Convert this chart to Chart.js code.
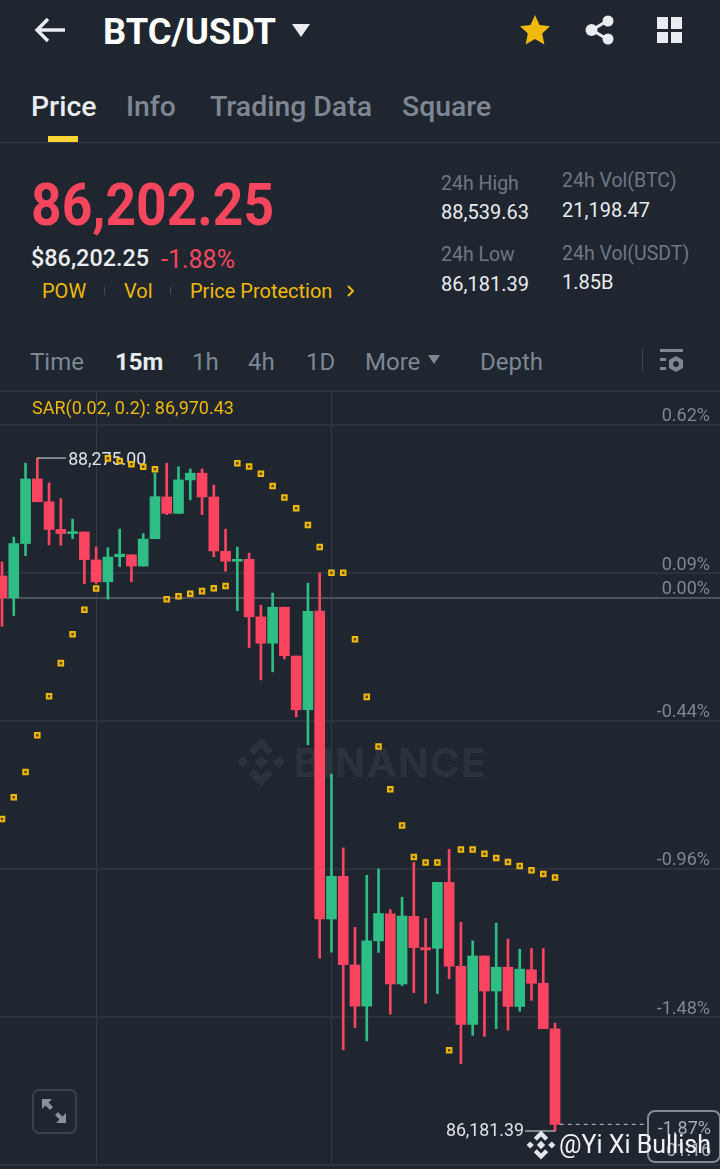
<!DOCTYPE html>
<html>
<head>
<meta charset="utf-8">
<title>BTC/USDT</title>
<script src="https://cdn.jsdelivr.net/npm/chart.js@4"></script>
<style>
  html, body { margin: 0; padding: 0; background: #1f2630; }
  #page { position: relative; width: 720px; height: 1169px; overflow: hidden; background: #1f2630; font-family: Roboto, sans-serif; color: #eaecef; }
  #page div { position: absolute; white-space: nowrap; line-height: 1; }
  #page svg { position: absolute; }
  .tab { font-size: 28.4px; font-weight: 500; color: #7e8794; top: 93px; }
  .range { font-size: 24px; color: #7e8794; top: 350px; }
  .lbl { font-size: 19.5px; color: #6f7783; }
  .val { font-size: 20px; font-weight: 400; color: #eaecef; }
  .gold { font-size: 20px; color: #f0b90b; top: 281px; }
  #chartBox { left: 0; top: 392px; }
  canvas { display: block; }
</style>
</head>
<body>
<div id="page">
  <svg style="left:34px;top:16px" width="32" height="28" viewBox="0 0 32 28"><path d="M14 3 L3 14 L14 25 M3 14 H31" fill="none" stroke="#eaecef" stroke-width="3.4"/></svg>
  <div style="left:103px;top:14px;font-size:36.3px;font-weight:700;color:#fff">BTC/USDT</div>
  <svg style="left:291px;top:22px" width="20" height="16"><path d="M1 2 H19 L10 15 Z" fill="#eaecef"/></svg>
  <svg style="left:518px;top:13px" width="34" height="34" viewBox="0 0 34 34"><path d="M17 2 L21.5 12 L32 13.2 L24.2 20.6 L26.4 31.6 L17 26 L7.6 31.6 L9.8 20.6 L2 13.2 L12.5 12 Z" fill="#f0b90b"/></svg>
  <svg style="left:584px;top:14px" width="32" height="32" viewBox="0 0 32 32"><path d="M23 7 L8 16 L23 25" fill="none" stroke="#eaecef" stroke-width="3"/><circle cx="24" cy="7" r="5.5" fill="#eaecef"/><circle cx="7.5" cy="16" r="6" fill="#eaecef"/><circle cx="24" cy="25" r="5.5" fill="#eaecef"/></svg>
  <svg style="left:656px;top:16px" width="28" height="28"><rect x="1" y="1" width="11" height="12" fill="#eaecef"/><rect x="15" y="1" width="11" height="12" fill="#eaecef"/><rect x="1" y="16" width="11" height="11" fill="#eaecef"/><rect x="15" y="16" width="11" height="11" fill="#eaecef"/></svg>

  <div class="tab" style="left:31px;color:#eaecef">Price</div>
  <div class="tab" style="left:126px">Info</div>
  <div class="tab" style="left:210px">Trading Data</div>
  <div class="tab" style="left:402px">Square</div>
  <div style="left:48px;top:136px;width:30px;height:6px;background:#fcd535"></div>
  <div style="left:0;top:142px;width:720px;height:1px;background:#333a45"></div>

  <div style="left:31px;top:175px;font-size:59px;font-weight:700;color:#f6465d;transform:scaleX(0.905);transform-origin:left top">86,202.25</div>
  <div style="left:31px;top:247px;font-size:23.4px;font-weight:500;color:#eaecef">$86,202.25</div>
  <div style="left:161px;top:247px;font-size:25px;color:#f6465d">-1.88%</div>
  <div class="gold" style="left:42px">POW</div>
  <div style="left:104px;top:287px;width:1px;height:8px;background:#474d57"></div>
  <div class="gold" style="left:124px">Vol</div>
  <div style="left:170px;top:287px;width:1px;height:8px;background:#474d57"></div>
  <div class="gold" style="left:190px">Price Protection</div>
  <svg style="left:346px;top:285px" width="10" height="12"><path d="M2 1 L7 6 L2 11" fill="none" stroke="#f0b90b" stroke-width="2"/></svg>

  <div class="lbl" style="left:441px;top:174px">24h High</div>
  <div class="val" style="left:441px;top:202px">88,539.63</div>
  <div class="lbl" style="left:441px;top:245px">24h Low</div>
  <div class="val" style="left:441px;top:274px">86,181.39</div>
  <div class="lbl" style="left:562px;top:171px">24h Vol(BTC)</div>
  <div class="val" style="left:562px;top:200px">21,198.47</div>
  <div class="lbl" style="left:562px;top:244px">24h Vol(USDT)</div>
  <div class="val" style="left:562px;top:272px">1.85B</div>

  <div class="range" style="left:30px">Time</div>
  <div class="range" style="left:115px;color:#eaecef;font-weight:700">15m</div>
  <div class="range" style="left:192px">1h</div>
  <div class="range" style="left:248px">4h</div>
  <div class="range" style="left:306px">1D</div>
  <div class="range" style="left:365px">More</div>
  <svg style="left:427px;top:354px" width="14" height="12"><path d="M1 1 H13 L7 10 Z" fill="#7e8794"/></svg>
  <div class="range" style="left:480px">Depth</div>
  <div style="left:642px;top:348px;width:1px;height:24px;background:#3b424d"></div>
  <svg style="left:659px;top:348px" width="26" height="26"><rect x="1" y="1" width="23" height="3" fill="#7e8794"/><rect x="1" y="10" width="6" height="3" fill="#7e8794"/><rect x="1" y="19" width="6" height="3" fill="#7e8794"/><path d="M17 8 L24 12 V20 L17 24 L10 20 V12 Z M17 13 A3 3 0 1 0 17.01 13 Z" fill="#7e8794" fill-rule="evenodd"/></svg>

  <div style="left:0;top:390px;width:720px;height:2px;background:#2b323c"></div>

  <!-- faint watermark sits under the chart -->
  <svg style="left:236px;top:737px" width="50" height="50" viewBox="0 0 50 50"><g fill="#2b323d"><path d="M25 1 L37 13 L32 18 L25 11 L18 18 L13 13 Z"/><path d="M25 49 L37 37 L32 32 L25 39 L18 32 L13 37 Z"/><path d="M1 25 L7 19 L13 25 L7 31 Z"/><path d="M49 25 L43 19 L37 25 L43 31 Z"/><path d="M25 18 L32 25 L25 32 L18 25 Z"/></g></svg>
  <div style="left:294px;top:743px;font-size:40px;font-weight:700;color:#2b323d;letter-spacing:1.5px;font-family:Inter,Roboto,sans-serif">BINANCE</div>

  <div id="chartBox"><canvas id="klineChart" width="720" height="774"></canvas></div>
  <div style="left:32px;top:1089px;width:41px;height:41px;border:2px solid #3a414c;border-radius:7px"></div>
  <svg style="left:41px;top:1098px" width="27" height="27"><path d="M1 1 H11 L7.5 4.5 L12 9 L9 12 L4.5 7.5 L1 11 Z M25 25 H15 L18.5 21.5 L14 17 L17 14 L21.5 18.5 L25 15 Z" fill="#8a919c"/></svg>

  <div style="left:647px;top:1110px;width:70px;height:49px;border:2px solid #848b96;border-radius:8px;background:#1f2630"></div>
  <div style="right:9px;top:1119px;font-size:18px;color:#a9afb8">-1.87%</div>
  <div style="right:9px;top:1141px;font-size:18px;color:#a9afb8">01:16</div>

  <svg style="left:526px;top:1130px" width="30" height="30" viewBox="0 0 50 50"><g fill="#e4e6e9"><path d="M25 1 L37 13 L32 18 L25 11 L18 18 L13 13 Z"/><path d="M25 49 L37 37 L32 32 L25 39 L18 32 L13 37 Z"/><path d="M1 25 L7 19 L13 25 L7 31 Z"/><path d="M49 25 L43 19 L37 25 L43 31 Z"/><path d="M25 18 L32 25 L25 32 L18 25 Z"/></g></svg>
  <div style="left:559px;top:1132px;font-size:25px;color:#f1f2f4">@Yi Xi Bullish</div>
  <div style="left:32px;top:399px;font-size:18px;color:#f0b90b">SAR(0.02, 0.2): 86,970.43</div>
</div>

<script>
// candle values, oldest first
const opens = [87908,87840,88009,88210,88139,88053,88040,88045,87958,87890,87968,87974,87939,88024,88154,88103,88207,88228,88154,87985,87954,87960,87781,87699,87811,87659,87492,87799,86841,86974,86698,86570,86773,86857,86639,86849,86752,86750,86955,86694,86513,86726,86617,86691,86569,86683,86641,86499];
const closes = [87840,88009,88210,88139,88053,88040,88046,87959,87890,87967,87976,87939,88023,88155,88103,88207,88228,88154,87986,87954,87960,87781,87699,87811,87660,87492,87798,86841,86974,86699,86570,86773,86858,86639,86850,86752,86745,86955,86694,86513,86726,86617,86691,86569,86685,86641,86500,86202.25];
const highs = [87952,88029,88259,88275,88198,88149,88085,88045,87998,87996,88054,87974,88040,88228,88259,88248,88241,88241,88191,88054,87998,87979,87817,87855,87811,87659,87886,87918,87292,87062,86815,86977,86997,86870,86909,87017,86843,86955,87058,86831,86773,86726,86828,86779,86747,86749,86749,86517];
const lows = [87752,87785,87971,88139,88005,88004,88024,87884,87885,87836,87937,87890,87939,88024,88099,88103,88145,88099,87968,87923,87800,87685,87585,87610,87650,87470,87383,86719,86738,86434,86503,86462,86737,86545,86634,86612,86579,86609,86655,86391,86479,86476,86500,86495,86554,86588,86500,86181.39];
const sar = [87152,87220,87298,87413,87534,87637,87727,87803,87869,88274,88266,88256,88248,88240,87836,87845,87853,87861,87870,87877,88259,88249,88226,88188,88152,88119,88067,87998,87918,87918,87711,87532,87378,87245,87132,87034,87017,87017,86433,87057,87057,87044,87031,87018,87006,86993,86981,86970.43];

// right hand axis
const gridPrices = [88378,87917,87840,87457,86997,86536,86076];
const gridLabels = ['0.62%','0.09%','0.00%','-0.44%','-0.96%','-1.48%','-2.00%'];
const zeroPrice = 87840;
const timeGrid = [8,28];

const highMark = { price: 88275, label: '88,275.00', from: 3, to: 5.45 };
const lowMark = { price: 86181.39, label: '86,181.39', from: 44.45, to: 47 };
const lastPrice = 86202.25;
const lastFrom = 47.4, lastTo = 54.8;

const RED = '#fb4560', GREEN = '#2ebd85';
const candleColors = opens.map((o, i) => closes[i] >= o ? GREEN : RED);

// no room kept for labels, the plot fills the whole canvas
const noPadding = (axis) => {
  axis.paddingLeft = axis.paddingRight = axis.paddingTop = axis.paddingBottom = 0;
};

// plain text for the max/min marks, drawn under the SAR dots
const markLabels = {
  id: 'markLabels',
  beforeDatasetsDraw(chart) {
    const { ctx, scales } = chart;
    ctx.save();
    ctx.font = '17.8px Roboto, sans-serif';
    ctx.fillStyle = '#dfe2e6';
    ctx.textBaseline = 'middle';
    ctx.textAlign = 'left';
    ctx.fillText(highMark.label, scales.x.getPixelForValue(highMark.to) + 2, scales.y.getPixelForValue(highMark.price) + 2);
    ctx.textAlign = 'right';
    ctx.fillText(lowMark.label, scales.x.getPixelForValue(lowMark.from) - 1, scales.y.getPixelForValue(lowMark.price) + 1);
    ctx.restore();
  }
};

new Chart(document.getElementById('klineChart'), {
  type: 'bar',
  data: {
    datasets: [
      {
        type: 'line', label: 'SAR',
        data: sar.map((v, i) => ({ x: i, y: v })),
        showLine: false, pointStyle: 'rect', pointRadius: 3.2, pointHoverRadius: 3.2,
        pointBorderWidth: 2, pointBorderColor: '#f0b90b', pointBackgroundColor: '#5a4a14', order: 0
      },
      {
        type: 'line', label: 'high mark',
        data: [{ x: highMark.from, y: highMark.price }, { x: highMark.to, y: highMark.price }],
        borderColor: '#dfe2e6', borderWidth: 1, pointRadius: 0, order: 1
      },
      {
        type: 'line', label: 'low mark',
        data: [{ x: lowMark.from, y: lowMark.price }, { x: lowMark.to, y: lowMark.price }],
        borderColor: '#dfe2e6', borderWidth: 1, pointRadius: 0, order: 1
      },
      {
        type: 'line', label: 'last price',
        data: [{ x: lastFrom, y: lastPrice }, { x: lastTo, y: lastPrice }],
        borderColor: '#c9ccd1', borderWidth: 1, borderDash: [4, 4], pointRadius: 0, order: 1
      },
      {
        label: 'body', grouped: false, barThickness: 10, order: 2,
        data: opens.map((o, i) => ({ x: i, y: [o, closes[i]] })),
        backgroundColor: candleColors
      },
      {
        label: 'wick', grouped: false, barThickness: 2, order: 3,
        data: lows.map((l, i) => ({ x: i, y: [l, highs[i]] })),
        backgroundColor: candleColors
      }
    ]
  },
  options: {
    responsive: false,
    animation: false,
    devicePixelRatio: 1,
    layout: { padding: 0, autoPadding: false },
    plugins: { legend: { display: false }, tooltip: { enabled: false } },
    scales: {
      x: {
        type: 'linear', min: -0.17, max: 61.02, offset: false,
        afterBuildTicks: (axis) => { axis.ticks = timeGrid.map((v) => ({ value: v })); },
        afterFit: noPadding,
        grid: { color: '#343b46', lineWidth: 1, drawTicks: false, offset: false },
        border: { display: false },
        ticks: { display: false }
      },
      y: {
        position: 'right', min: 86072.6, max: 88480.5,
        afterBuildTicks: (axis) => { axis.ticks = gridPrices.map((v) => ({ value: v })); },
        afterFit: (axis) => { noPadding(axis); axis.width = 0; },
        grid: {
          drawTicks: false,
          color: (c) => c.tick && c.tick.value === zeroPrice ? '#4b525d' : '#2b323c',
          lineWidth: 2
        },
        border: { display: false },
        ticks: {
          mirror: true, padding: -10, labelOffset: -8,
          color: '#7e8794', font: { size: 18, family: 'Roboto, sans-serif' },
          callback: (value, i) => gridLabels[i]
        }
      }
    }
  },
  plugins: [markLabels]
});
</script>
</body>
</html>
